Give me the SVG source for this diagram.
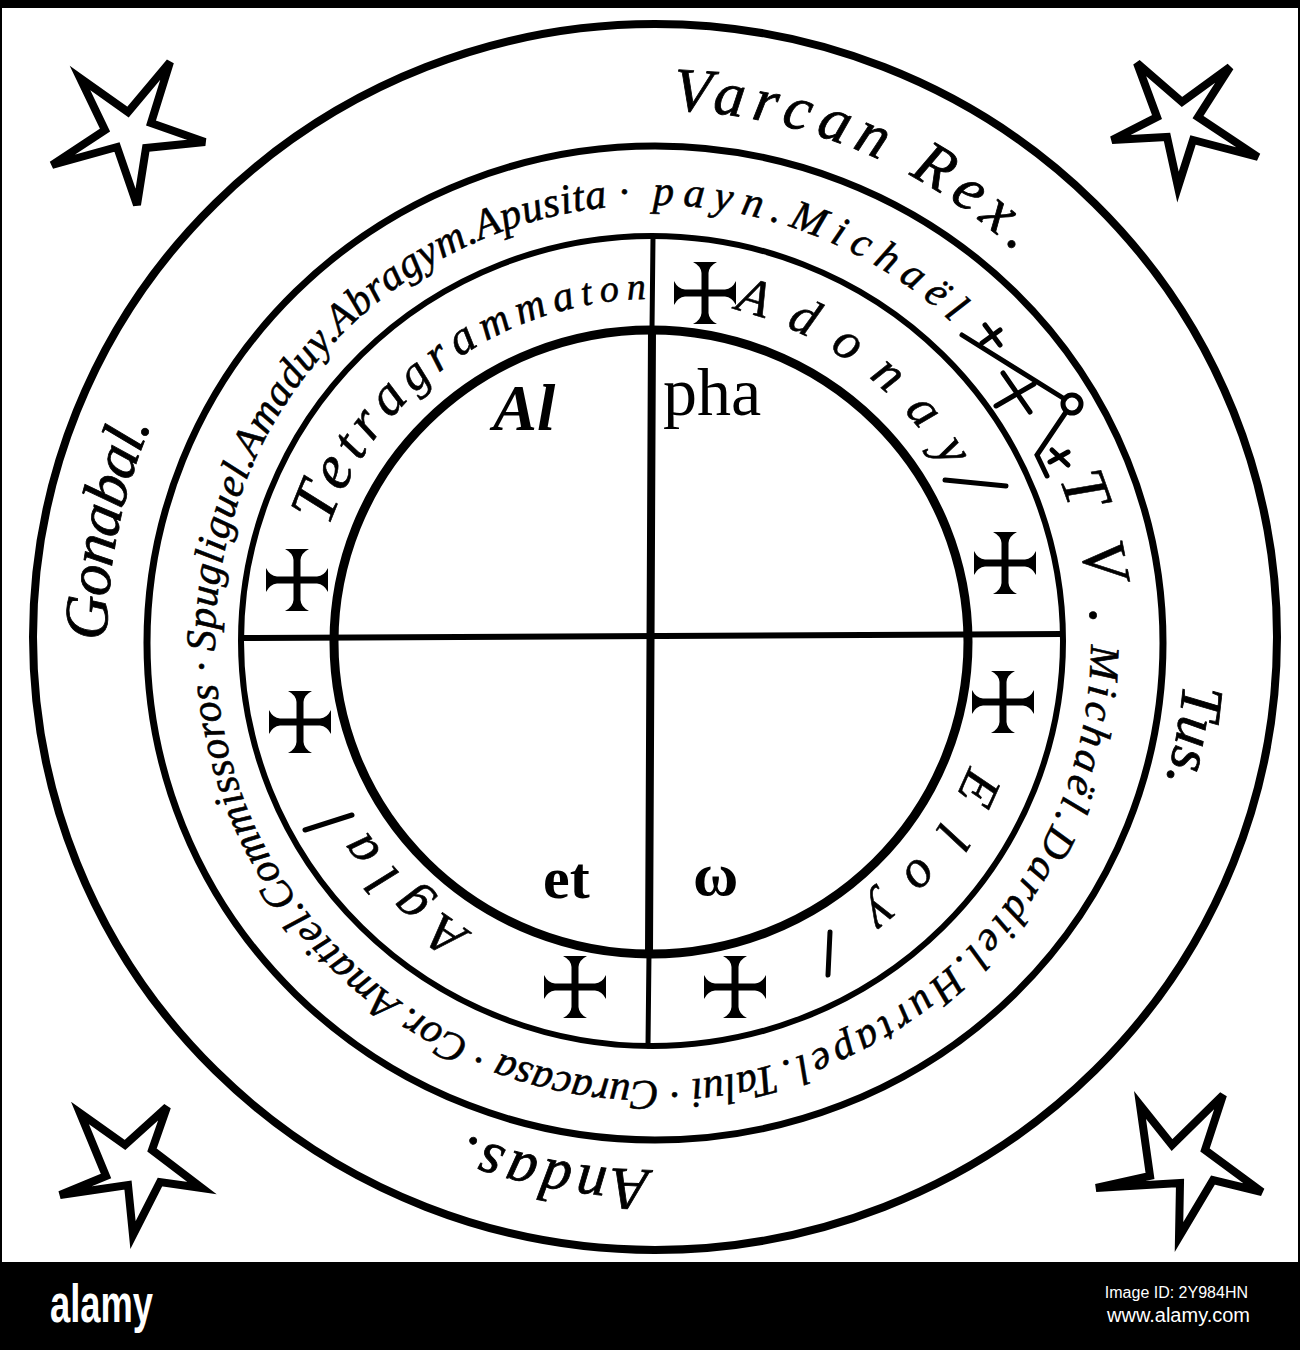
<svg xmlns="http://www.w3.org/2000/svg" xmlns:xlink="http://www.w3.org/1999/xlink" width="1300" height="1350" viewBox="0 0 1300 1350">
<style>
.ln{fill:none;stroke:#000;stroke-linecap:round}
.star{fill:#fff;stroke:#000;stroke-width:8;stroke-linejoin:miter}
.rt{font-family:"Liberation Serif",serif;font-style:italic;fill:#000;stroke:#000;stroke-width:0.6}
.ot{font-family:"Liberation Serif",serif;font-style:italic;fill:#000;stroke:#000;stroke-width:0.8}
.ct{font-family:"Liberation Serif",serif;fill:#000}
.wm{font-family:"Liberation Sans","DejaVu Sans",sans-serif;fill:#fff}
</style>
<defs>
<path id="cross" d="M -3.5,-3.5 L -3.5,-20 Q -4,-27 -12,-31 L 12,-31 Q 4,-27 3.5,-20 L 3.5,-3.5 L 20,-3.5 Q 27,-4 31,-12 L 31,12 Q 27,4 20,3.5 L 3.5,3.5 L 3.5,20 Q 4,27 12,31 L -12,31 Q -4,27 -3.5,20 L -3.5,3.5 L -20,3.5 Q -27,4 -31,12 L -31,-12 Q -27,-4 -20,-3.5 Z" fill="#000"/>
<path id="pOuter" d="M 1185 640 A 530 530 0 1 1 125 640 A 530 530 0 1 1 1185 640"/>
<path id="pOuterL" d="M 1203 640 A 548 548 0 1 1 107 640 A 548 548 0 1 1 1203 640"/>
<path id="pMid" d="M 1091 643 A 438 438 0 1 1 215 643 A 438 438 0 1 1 1091 643"/>
<path id="pInner" d="M 993 641 A 342 342 0 1 1 309 641 A 342 342 0 1 1 993 641"/>
</defs>
<rect x="0" y="0" width="1300" height="1350" fill="#fff"/>
<g id="frame">
<rect x="0" y="0" width="1300" height="8" fill="#000"/>
<rect x="0" y="8" width="2" height="1254" fill="#000"/>
<rect x="1298" y="8" width="2" height="1254" fill="#000"/>
<rect x="0" y="1262" width="1300" height="88" fill="#000"/>
</g>
<g id="stars">
<polygon class="star" points="80,78 128,112 170,62 151,123 205,142 146,148 137,205 117,147 52,165 105,130"/>
<polygon class="star" points="1137,63 1182,102 1230,67 1198,117 1258,157 1193,140 1178,187 1167,137 1112,140 1157,117"/>
<polygon class="star" points="80,1113 125,1145 167,1107 152,1150 202,1188 160,1182 133,1235 128,1185 60,1195 106,1176"/>
<polygon class="star" points="1140,1105 1172,1145 1223,1095 1205,1150 1262,1192 1213,1180 1179,1237 1180,1183 1096,1188 1150,1176"/>
</g>
<g id="circles">
<ellipse class="ln" cx="655" cy="637" rx="622" ry="613" stroke-width="8"/>
<ellipse class="ln" cx="655" cy="643" rx="508" ry="497" stroke-width="7"/>
<ellipse class="ln" cx="652" cy="641" rx="411" ry="405" stroke-width="6"/>
<ellipse class="ln" cx="651" cy="642" rx="317" ry="312" stroke-width="9"/>
</g>
<g id="quadrants">
<line class="ln" x1="243" y1="638" x2="1062" y2="634" stroke-width="6"/>
<line class="ln" x1="653" y1="237" x2="652" y2="330" stroke-width="5"/>
<line class="ln" x1="652" y1="330" x2="649" y2="953" stroke-width="8"/>
<line class="ln" x1="649" y1="953" x2="648" y2="1046" stroke-width="5"/>
</g>
<g id="outer-names">
<text class="ot" font-size="62"><textPath xlink:href="#pOuter" startOffset="2515" textLength="380" lengthAdjust="spacing">Varcan Rex.</textPath></text>
<text class="ot" font-size="60"><textPath xlink:href="#pOuter" startOffset="44" textLength="100" lengthAdjust="spacing">Tus.</textPath></text>
<text class="ot" font-size="60"><textPath xlink:href="#pOuter" startOffset="838" textLength="188" lengthAdjust="spacing">Andas.</textPath></text>
<text class="ot" font-size="62"><textPath xlink:href="#pOuterL" startOffset="1721" textLength="222" lengthAdjust="spacing">Gonabal.</textPath></text>
</g>
<g id="middle-ring">
<text class="rt" font-size="42"><textPath xlink:href="#pMid" startOffset="2" textLength="558" lengthAdjust="spacing">Michaël.Dardiel.Hurtapel.</textPath></text>
<text class="rt" font-size="42"><textPath xlink:href="#pMid" startOffset="566" textLength="382" lengthAdjust="spacing">Talui · Curacasa · Cor.</textPath></text>
<text class="rt" font-size="42"><textPath xlink:href="#pMid" startOffset="956" textLength="402" lengthAdjust="spacing">Amatiel.Commissoros ·</textPath></text>
<text class="rt" font-size="42"><textPath xlink:href="#pMid" startOffset="1368" textLength="673" lengthAdjust="spacing">Spugliguel.Amaduy.Abragym.Apusita ·</textPath></text>
<text class="rt" font-size="42"><textPath xlink:href="#pMid" startOffset="2064" textLength="329" lengthAdjust="spacing">payn.Michaël</textPath></text>
<text class="rt" font-size="64"><textPath xlink:href="#pMid" startOffset="2584" textLength="150" lengthAdjust="spacing">TV.</textPath></text>
</g>
<g id="sigil" fill="none" stroke="#000" stroke-width="5" stroke-linecap="round">
<line x1="962" y1="335" x2="1063" y2="398"/>
<circle cx="1072" cy="404" r="9"/>
<polyline points="1066,412 1037,455 1047,476"/>
<line x1="1003" y1="373" x2="1030" y2="412"/>
<line x1="996" y1="406" x2="1034" y2="384"/>
<line x1="985" y1="325" x2="1000" y2="345"/>
<line x1="982" y1="343" x2="1000" y2="330"/>
<line x1="1052" y1="450" x2="1068" y2="465"/>
<line x1="1050" y1="462" x2="1068" y2="452"/>
</g>
<g id="inner-ring">
<text class="rt" font-size="54"><textPath xlink:href="#pInner" startOffset="128" textLength="182" lengthAdjust="spacing">Eloy</textPath></text>
<text class="rt" font-size="54"><textPath xlink:href="#pInner" startOffset="728" textLength="146" lengthAdjust="spacing">Agla</textPath></text>
<text class="rt"><textPath xlink:href="#pInner" startOffset="1190" textLength="416" lengthAdjust="spacing"><tspan font-size="64">Te</tspan><tspan font-size="56">tra</tspan><tspan font-size="48">gra</tspan><tspan font-size="42">mma</tspan><tspan font-size="38">ton</tspan></textPath></text>
<text class="rt" font-size="52"><textPath xlink:href="#pInner" startOffset="1695" textLength="272" lengthAdjust="spacing">Adonay</textPath></text>
<g class="ln" stroke-width="5">
<line x1="945" y1="480" x2="1006" y2="486"/>
<line x1="830" y1="932" x2="828" y2="975"/>
<line x1="305" y1="830" x2="352" y2="815"/>
</g>
</g>
<g id="crosses">
<use xlink:href="#cross" transform="translate(705,293)"/>
<use xlink:href="#cross" transform="translate(1005,563)"/>
<use xlink:href="#cross" transform="translate(1003,702)"/>
<use xlink:href="#cross" transform="translate(735,987)"/>
<use xlink:href="#cross" transform="translate(575,987)"/>
<use xlink:href="#cross" transform="translate(300,722)"/>
<use xlink:href="#cross" transform="translate(297,580)"/>
</g>
<g id="center-text">
<text class="ct" x="493" y="430" font-size="66" font-style="italic" font-weight="bold">Al</text>
<text class="ct" x="663" y="415" font-size="68">pha</text>
<text class="ct" x="543" y="898" font-size="60" font-weight="bold">et</text>
<text class="ct" x="693" y="895" font-size="62" font-weight="bold">ω</text>
</g>
<g id="watermark">
<text class="wm" x="50" y="1322" font-size="54" font-weight="bold" textLength="103" lengthAdjust="spacingAndGlyphs">alamy</text>
<text class="wm" x="1248" y="1298" font-size="16" text-anchor="end">Image ID: 2Y984HN</text>
<text class="wm" x="1250" y="1322" font-size="20" text-anchor="end">www.alamy.com</text>
</g>
</svg>
